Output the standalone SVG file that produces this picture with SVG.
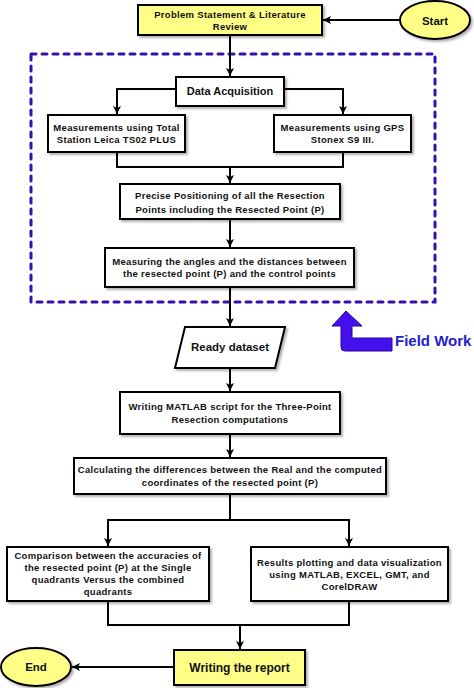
<svg xmlns="http://www.w3.org/2000/svg" width="474" height="688" viewBox="0 0 474 688">
<defs>
<marker id="ah" markerWidth="10" markerHeight="10" refX="8" refY="5" orient="auto" markerUnits="userSpaceOnUse">
<path d="M0,1 L8,5 L0,9 L2,5 Z" fill="#000"/>
</marker>
<filter id="sh" x="-10%" y="-10%" width="130%" height="140%">
<feDropShadow dx="2" dy="2" stdDeviation="1" flood-color="#000" flood-opacity="0.3"/>
</filter>
<style>
.box{fill:#fff;stroke:#000;stroke-width:2;filter:url(#sh)}
.ybox{fill:#ffff88;stroke:#000;stroke-width:2;filter:url(#sh)}
.t{font-family:"Liberation Sans",Arial,sans-serif;font-weight:bold;font-size:9.5px;letter-spacing:0.3px;fill:#111;text-anchor:middle}
.t11{font-family:"Liberation Sans",Arial,sans-serif;font-weight:bold;font-size:11.5px;fill:#111;text-anchor:middle}
.c{fill:none;stroke:#000;stroke-width:2}
.ca{fill:none;stroke:#000;stroke-width:2;marker-end:url(#ah)}
</style>
</defs>
<rect width="474" height="688" fill="#fff"/>

<g id="fieldwork-region">
<rect x="31" y="54" width="404" height="248" fill="none" stroke="#3311aa" stroke-width="3" stroke-dasharray="5 6" stroke-linecap="round"/>
</g>

<g id="connectors">
<line class="ca" x1="400" y1="20" x2="323" y2="20"/>
<line class="ca" x1="230" y1="35" x2="230" y2="76"/>
<polyline class="ca" points="176,89 117,89 117,114"/>
<polyline class="ca" points="284,89 343,89 343,114"/>
<polyline class="c" points="117,152 117,167 343,167 343,152"/>
<line class="ca" x1="230" y1="167" x2="230" y2="183"/>
<line class="ca" x1="230" y1="219" x2="230" y2="247"/>
<line class="ca" x1="230" y1="287" x2="230" y2="326"/>
<line class="ca" x1="230" y1="368" x2="230" y2="391"/>
<line class="ca" x1="230" y1="434" x2="230" y2="457"/>
<polyline class="c" points="230,494 230,520"/>
<polyline class="ca" points="230,520 108,520 108,546"/>
<polyline class="ca" points="230,520 349,520 349,546"/>
<polyline class="c" points="108,601 108,625 349,625 349,601"/>
<line class="ca" x1="240" y1="625" x2="240" y2="649"/>
<line class="ca" x1="174" y1="667" x2="72" y2="667"/>
</g>

<g id="start">
<ellipse cx="435" cy="20" rx="35" ry="19" fill="#ffff88" stroke="#000" stroke-width="2" filter="url(#sh)"/>
<text class="t11" x="435" y="25">Start</text>
</g>

<g id="problem">
<rect class="ybox" x="138" y="5" width="184" height="30"/>
<text class="t" x="230" y="17.5">Problem Statement &amp; Literature</text>
<text class="t" x="230" y="29.5">Review</text>
</g>

<g id="data-acquisition">
<rect class="box" x="176" y="77" width="108" height="29"/>
<text class="t11" x="230" y="95" style="font-size:11px">Data Acquisition</text>
</g>

<g id="total-station">
<rect class="box" x="48" y="115" width="137" height="37"/>
<text class="t" x="116.5" y="130.5">Measurements  using Total</text>
<text class="t" x="116.5" y="142.5">Station Leica TS02 PLUS</text>
</g>

<g id="gps">
<rect class="box" x="274" y="115" width="137" height="37"/>
<text class="t" x="342.5" y="130.5">Measurements using GPS</text>
<text class="t" x="342.5" y="142.5">Stonex S9 III.</text>
</g>

<g id="precise">
<rect class="box" x="120" y="184" width="220" height="35"/>
<text class="t" x="230" y="198.5">Precise Positioning of all the Resection</text>
<text class="t" x="230" y="212.5">Points including the Resected Point (P)</text>
</g>

<g id="measuring">
<rect class="box" x="105" y="248" width="249" height="39"/>
<text class="t" x="229.5" y="264.5">Measuring the angles and the distances between</text>
<text class="t" x="229.5" y="276.5">the resected point (P) and the control points</text>
</g>

<g id="field-work-label">
<path d="M346,311 L362,326 L352,326 L352,338 L392,338 L392,351 L345,351 Q341,351 341,347 L341,326 L332,326 Z" fill="#4411ee" stroke="#2a0099" stroke-width="1"/>
<text x="395" y="346" style="font-family:'Liberation Sans',Arial,sans-serif;font-weight:bold;font-size:15px;fill:#2222cc">Field Work</text>
</g>

<g id="ready-dataset">
<polygon points="185,327 285,327 275,368 175,368" fill="#fff" stroke="#000" stroke-width="2" filter="url(#sh)"/>
<text class="t11" x="230" y="351">Ready dataset</text>
</g>

<g id="matlab">
<rect class="box" x="120" y="392" width="220" height="42"/>
<text class="t" x="230" y="409.5">Writing MATLAB script for the Three-Point</text>
<text class="t" x="230" y="422.5">Resection computations</text>
</g>

<g id="calculating">
<rect class="box" x="74" y="458" width="312" height="36"/>
<text class="t" x="230" y="472.5">Calculating the differences between the Real and the computed</text>
<text class="t" x="230" y="485.5">coordinates of the resected point (P)</text>
</g>

<g id="comparison">
<rect class="box" x="7" y="547" width="202" height="54"/>
<text class="t" x="108" y="558.5">Comparison between the accuracies of</text>
<text class="t" x="108" y="570.5">the resected point (P) at the Single</text>
<text class="t" x="108" y="582.5">quadrants Versus the combined</text>
<text class="t" x="108" y="594.5">quadrants</text>
</g>

<g id="results">
<rect class="box" x="251" y="547" width="197" height="54"/>
<text class="t" x="349.5" y="565.5">Results plotting and data visualization</text>
<text class="t" x="349.5" y="577.5">using MATLAB, EXCEL, GMT, and</text>
<text class="t" x="349.5" y="589.5">CorelDRAW</text>
</g>

<g id="writing-report">
<rect class="ybox" x="174" y="650" width="131" height="35"/>
<text class="t11" x="239.5" y="672" style="font-size:12px">Writing the report</text>
</g>

<g id="end">
<ellipse cx="36" cy="667" rx="35" ry="19" fill="#ffff88" stroke="#000" stroke-width="2" filter="url(#sh)"/>
<text class="t11" x="36" y="671">End</text>
</g>
</svg>
